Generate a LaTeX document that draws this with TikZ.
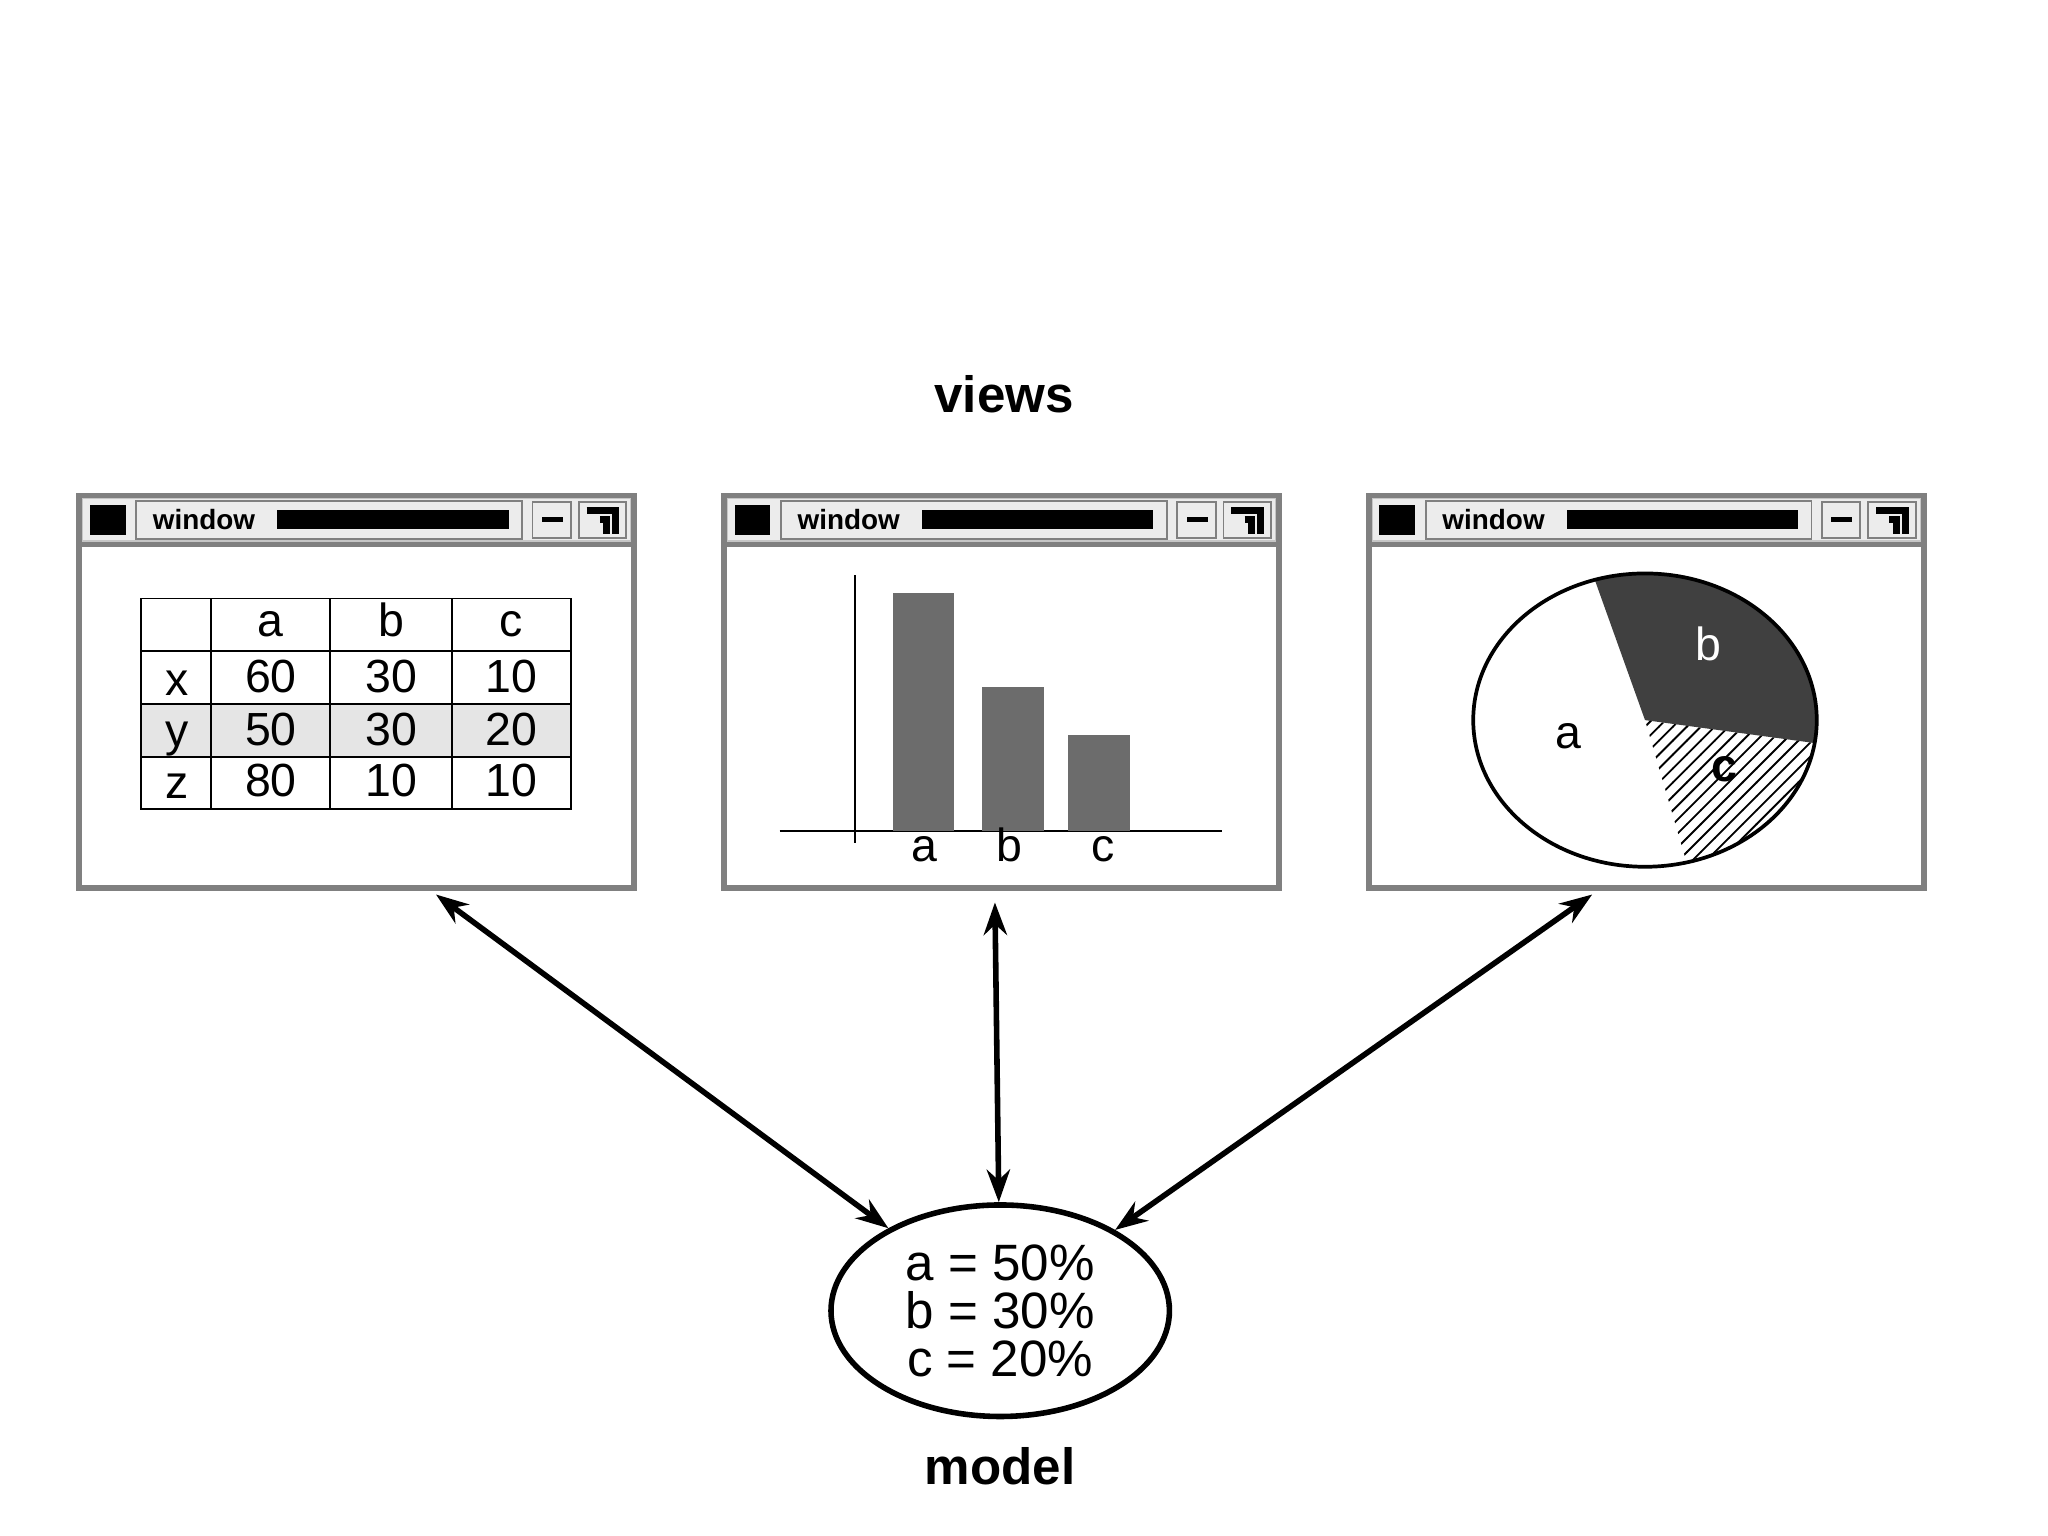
\documentclass[tikz,border=0pt]{standalone}
\usepackage{fontspec}
\setmainfont{Liberation Sans}
\usetikzlibrary{shapes.geometric,patterns,arrows.meta}
\tikzset{
 lbl/.style={font=\fontsize{10}{12}\selectfont,inner sep=0pt},
 conn/.style={very thick,{Stealth[length=7pt,width=5pt]}-{Stealth[length=7pt,width=5pt]}},
}
\newcommand{\mywin}[2]{%
 \begin{scope}[shift={(#1,0)}]
 \fill[gray!45] (0,750) rectangle (420,787);
 \fill[gray!15] (3,753) rectangle (417,784);
 \draw[gray,line width=1.2pt] (0,490) rectangle (420,750);
 \draw[gray,line width=1.2pt] (0,750) rectangle (420,787);
 \fill[black] (8,757) rectangle (35,780);
 \draw[gray] (43,754) rectangle (335,783);
 \node[anchor=west,inner sep=0pt,font=\fontsize{6}{7}\selectfont\bfseries] (#2t) at (55,769) {window};
 \fill[black] (150,762) rectangle (325,776);
 \draw[gray] (343,755) rectangle (372,782);
 \fill[black] (350,767) rectangle (366,771);
 \draw[gray] (378,755) rectangle (414,782);
 \draw[line width=1.5pt] (384,776) -- (406,776) -- (406,758);
 \draw[line width=1.5pt] (394,769) -- (399,769) -- (399,758);
 \end{scope}}
\begin{document}
\begin{tikzpicture}[x=0.01cm,y=0.01cm]
\useasboundingbox (0,0) rectangle (1550,1162);
\node[font=\fontsize{11}{13}\selectfont\bfseries] (views) at (760,864) {views};
\mywin{60}{w1}
\mywin{548}{w2}
\mywin{1036}{w3}
% table
\fill[gray!20] (107,589) rectangle (432,629);
\draw (107,550) rectangle (432,709);
\foreach \y in {669,629,589} \draw (107,\y) -- (432,\y);
\foreach \x in {160,250,342} \draw (\x,550) -- (\x,709);
\node[lbl,anchor=base] (ta) at (205,680) {a};
\node[lbl,anchor=base] (tb) at (296,680) {b};
\node[lbl,anchor=base] (tc) at (387,680) {c};
\node[lbl,anchor=base] (tx) at (134,636) {x};
\node[lbl,anchor=base] (ty) at (134,597) {y};
\node[lbl,anchor=base] (tz) at (134,558) {z};
\node[lbl,anchor=base] at (205,638) {60};\node[lbl,anchor=base] at (296,638) {30};\node[lbl,anchor=base] at (387,638) {10};
\node[lbl,anchor=base] at (205,598) {50};\node[lbl,anchor=base] at (296,598) {30};\node[lbl,anchor=base] at (387,598) {20};
\node[lbl,anchor=base] at (205,559) {80};\node[lbl,anchor=base] at (296,559) {10};\node[lbl,anchor=base] at (387,559) {10};
% bar chart
\draw (647,524) -- (647,727);
\draw (590,533) -- (925,533);
\fill[gray!85!black] (676,533) rectangle (722,713);
\fill[gray!85!black] (743,533) rectangle (790,642);
\fill[gray!85!black] (808,533) rectangle (855,606);
\node[lbl,anchor=base] (ba) at (700,510) {a};
\node[lbl,anchor=base] (bb) at (764,510) {b};
\node[lbl,anchor=base] (bc) at (835,510) {c};
% pie
\fill[black!75] (1245,617) -- ++(107:130 and 111) arc[start angle=107,end angle=-9,x radius=130,y radius=111] -- cycle;
\fill[pattern=north east lines] (1245,617) -- ++(-9:130 and 111) arc[start angle=-9,end angle=-76,x radius=130,y radius=111] -- cycle;
\draw[thick] (1245,617) ellipse[x radius=130,y radius=111];
\node[lbl,white] (pb) at (1293,675) {b};
\node[lbl] (pa) at (1187,605) {a};
\node[lbl,font=\fontsize{10}{12}\selectfont\bfseries] (pc) at (1305,580) {c};
% model
\node[draw,very thick,ellipse,minimum width=2.56cm,minimum height=1.6cm,align=center,font=\fontsize{11}{10.3}\selectfont,inner sep=0pt] (model) at (757,170) {a = 50\%\\b = 30\%\\c = 20\%};
\node[font=\fontsize{11}{13}\selectfont\bfseries] (mlabel) at (757,52) {model};
\coordinate (e1) at (330,485);
\coordinate (e2) at (753,479);
\coordinate (e3) at (1205,485);
\draw[conn] (e1) -- (model);
\draw[conn] (e2) -- (model);
\draw[conn] (e3) -- (model);
\end{tikzpicture}
\end{document}
